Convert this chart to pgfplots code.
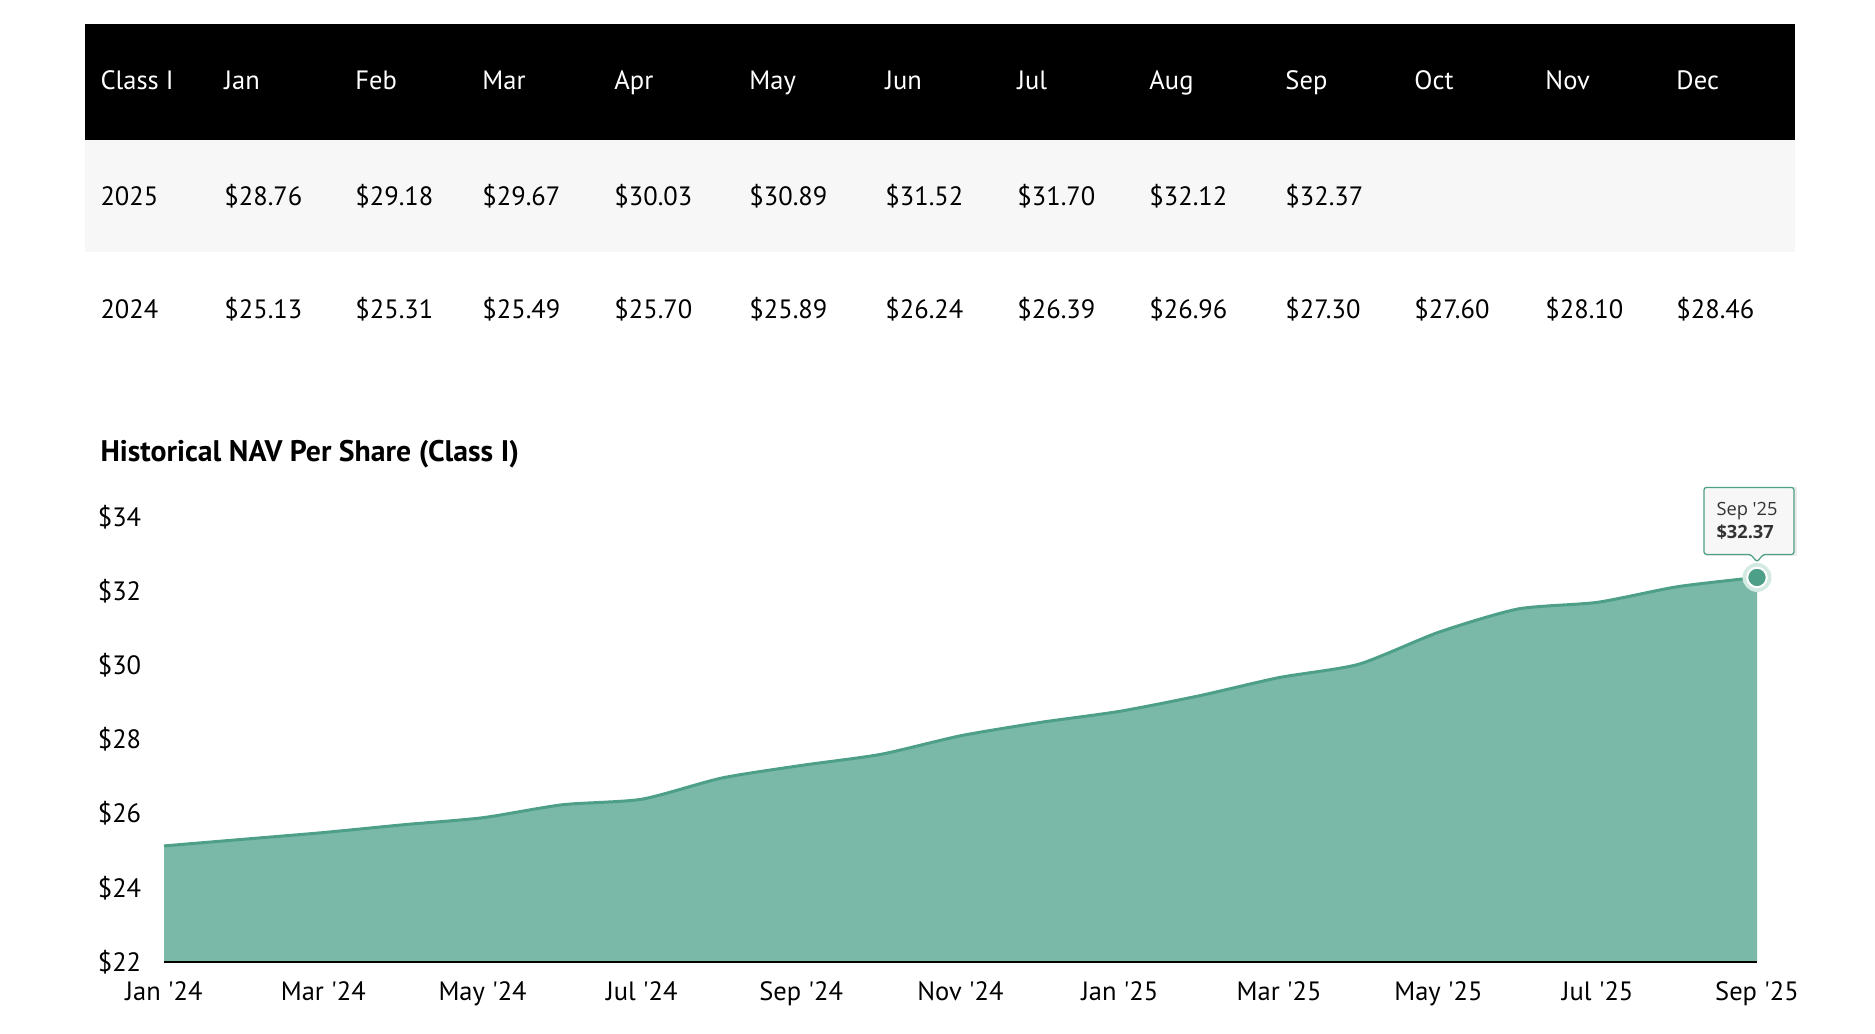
\documentclass[border=0pt]{standalone}
\usepackage{fontspec}
\setmainfont{PT Sans}
\newfontfamily\tipfont{Open Sans}
\usepackage{pgfplots}
\pgfplotsset{compat=1.18}
\definecolor{areafill}{HTML}{7AB8A8}
\definecolor{arealine}{HTML}{4E9F88}
\definecolor{halo}{HTML}{D3EAE3}
\definecolor{rowgray}{HTML}{F7F7F7}
\definecolor{tiptext}{HTML}{333333}

\pgfplotstableread{
m nav
0 25.13
1 25.31
2 25.49
3 25.70
4 25.89
5 26.24
6 26.39
7 26.96
8 27.30
9 27.60
10 28.10
11 28.46
12 28.76
13 29.18
14 29.67
15 30.03
16 30.89
17 31.52
18 31.70
19 32.12
20 32.37
}\navdata

\begin{document}
\begin{tikzpicture}
\useasboundingbox (0,0) rectangle (750pt,-413.6pt);
% table, in pixel units of the reference
\begin{scope}[x=0.4pt, y=-0.4pt, every node/.style={font=\fontsize{10.6}{12}\selectfont, anchor=base west, inner sep=0pt}]
  \fill[black] (85,24) rectangle (1795,140);
  \fill[rowgray] (85,140) rectangle (1795,252);
  \foreach \x/\t in {100/Class I,224/Jan,355/Feb,482/Mar,614/Apr,749/May,885/Jun,1017/Jul,1149/Aug,1285/Sep,1414/Oct,1545/Nov,1676/Dec}
    \node[text=white] at (\x,89.5) {\t};
  \foreach \x/\t in {100/2025,224/\$28.76,355/\$29.18,482/\$29.67,614/\$30.03,749/\$30.89,885/\$31.52,1017/\$31.70,1149/\$32.12,1285/\$32.37}
    \node at (\x,205.5) {\t};
  \foreach \x/\t in {100/2024,224/\$25.13,355/\$25.31,482/\$25.49,614/\$25.70,749/\$25.89,885/\$26.24,1017/\$26.39,1149/\$26.96,1285/\$27.30,1414/\$27.60,1545/\$28.10,1676/\$28.46}
    \node at (\x,318.5) {\t};
  \node[font=\fontsize{11.9}{13}\selectfont\bfseries] at (100,462) {Historical NAV Per Share (Class I)};
\end{scope}

\begin{axis}[
  at={(65.6pt,-384.8pt)}, anchor=south west,
  scale only axis, width=637.2pt, height=178pt,
  xmin=0, xmax=20, ymin=22, ymax=34,
  clip=false,
  axis line style={draw=none},
  tick style={draw=none},
  xtick={0,2,...,20},
  xticklabels={Jan \textquotesingle24,Mar \textquotesingle24,May \textquotesingle24,Jul \textquotesingle24,Sep \textquotesingle24,Nov \textquotesingle24,Jan \textquotesingle25,Mar \textquotesingle25,May \textquotesingle25,Jul \textquotesingle25,Sep \textquotesingle25},
  ytick={22,24,...,34},
  yticklabel={\$\pgfmathprintnumber{\tick}},
  /pgf/number format/assume math mode=true,
  ticklabel style={font=\fontsize{10.6}{12}\selectfont},
  yticklabel style={anchor=west, xshift=-30pt},
  xticklabel style={yshift=-4.2pt},
]
\addplot[draw=none, fill=areafill, smooth, tension=0.4] table[x=m, y=nav] {\navdata} \closedcycle;
\addplot[arealine, line width=1.2pt, smooth, tension=0.4] table[x=m, y=nav] {\navdata};
\draw[black, line width=0.8pt] (axis cs:0,22) -- (axis cs:20,22);
\addplot[only marks, mark=*, mark size=5.6pt, draw=halo, fill=halo] coordinates {(20,32.37)};
\addplot[only marks, mark=*, mark size=3.9pt, draw=white, fill=arealine, line width=0.8pt] coordinates {(20,32.37)};
\coordinate (pt) at (axis cs:20,32.37);
\end{axis}
% tooltip
\begin{scope}[shift={(pt)}]
  \fill[black, opacity=0.08] (-20.5pt,8.4pt) rectangle (15.8pt,36.2pt);
  \filldraw[draw=arealine, fill=rowgray, line width=0.5pt, rounded corners=1pt]
    (-21.2pt,9.2pt) -- (-2.5pt,9.2pt) -- (0,6.2pt) -- (2.5pt,9.2pt) -- (14.8pt,9.2pt)
    -- (14.8pt,36pt) -- (-21.2pt,36pt) -- cycle;
  \node[anchor=west, inner sep=0pt, text=tiptext, font=\tipfont\fontsize{7.3}{8}\selectfont] at (-16.4pt,26.4pt) {Sep \textquotesingle25};
  \node[anchor=west, inner sep=0pt, text=tiptext, font=\tipfont\fontsize{7.3}{8}\selectfont\bfseries] at (-16.4pt,18pt) {\$32.37};
\end{scope}
\end{tikzpicture}
\end{document}
